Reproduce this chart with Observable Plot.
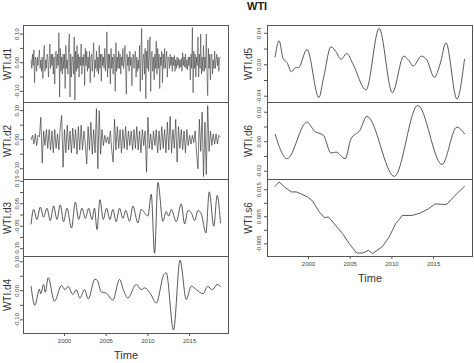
<!DOCTYPE html>
<html><head><meta charset="utf-8">
<script src="https://cdn.jsdelivr.net/npm/d3@7"></script>
<script src="https://cdn.jsdelivr.net/npm/@observablehq/plot@0.6"></script>
<style>
body{margin:0;background:#fff;}
#chart{position:relative;width:474px;height:363px;overflow:hidden;background:#fff;}
#chart svg{position:absolute;overflow:visible;}
.title{position:absolute;left:247px;top:0px;font:bold 11px "Liberation Sans Narrow","Liberation Sans",Arial,sans-serif;color:#222;}
</style></head><body>
<div id="chart"><div class="title">WTI</div></div>
<script>
// ---- data ----
const seriesStart = 1996;
const d1Step = 1 / 12;
const d1Values = [
  0.01,-0.02,0.03,-0.01,0.045,-0.07,0.02,0.01,-0.03,0.02,-0.01,0.015,
  0.045,-0.02,0.01,-0.03,0.02,-0.055,0.03,0.06,-0.03,0.01,-0.02,0.03,
  0.02,-0.05,0.01,0.065,-0.02,0.03,-0.01,0.03,-0.04,0.02,-0.075,0.03,
  0.04,-0.02,0.03,-0.01,0.105,-0.12,0.05,-0.03,0.02,-0.04,0.03,-0.02,
  0.03,-0.09,0.06,-0.02,0.01,-0.04,0.06,0.1,-0.12,0.03,-0.05,0.02,
  0.02,-0.04,0.09,-0.13,0.04,-0.03,0.06,-0.02,0.03,-0.05,0.02,-0.01,
  0.065,-0.04,0.02,-0.01,0.03,-0.08,0.05,-0.01,0.04,-0.03,0.02,-0.02,
  0.04,-0.07,0.015,0.03,-0.03,0.02,0.07,-0.05,0.01,-0.02,0.04,-0.03,
  0.02,-0.04,0.06,-0.02,0.03,-0.065,0.03,-0.01,0.02,-0.02,0.05,-0.03,
  0.01,0.108,-0.05,0.03,-0.02,0.03,-0.075,0.05,-0.02,0.02,-0.04,0.03,
  0.02,-0.1,0.07,-0.03,0.02,-0.02,0.04,-0.02,0.03,-0.04,0.02,-0.01,
  0.05,-0.02,0.01,0.06,-0.03,-0.11,0.03,-0.01,0.02,-0.03,0.04,-0.01,
  0.02,-0.08,0.01,0.03,-0.02,0.02,0.04,-0.05,0.02,-0.03,0.01,-0.02,
  0.06,-0.1,0.03,0.12,-0.06,0.02,0.03,-0.04,0.05,-0.126,0.04,-0.02,
  0.08,-0.03,0.02,0.09,-0.1,0.03,0.04,-0.03,0.02,-0.06,0.03,-0.02,
  0.075,-0.04,0.05,-0.02,0.03,-0.09,0.02,-0.01,0.04,-0.07,0.03,-0.02,
  0.05,-0.02,0.01,0.04,-0.05,0.02,0.015,-0.02,0.03,-0.01,0.02,-0.03,
  0.02,-0.01,0.025,-0.03,0.01,-0.02,0.02,-0.01,0.015,-0.02,0.01,-0.015,
  0.015,-0.03,0.035,-0.01,0.02,-0.015,0.03,-0.02,0.01,-0.025,0.02,-0.01,
  0.02,-0.06,0.03,-0.02,0.123,-0.105,0.04,-0.02,0.03,-0.05,0.02,-0.01,
  0.09,-0.05,0.03,-0.02,0.1,-0.04,0.02,-0.03,0.06,-0.03,0.02,-0.02,
  0.1,-0.04,-0.115,0.05,-0.02,0.03,-0.06,0.02,0.03,-0.04,0.01,-0.02,
  0.04,-0.02,0.01,0.03,-0.01,0.02,-0.03,0.015,0.02
];
const d2Step = 1 / 6;
const d2Values = [
  0.0,0.015,-0.015,0.02,-0.02,0.015,
  0.01,0.077,-0.08,0.03,-0.02,0.035,
  -0.03,0.035,-0.035,0.03,-0.045,0.035,
  -0.03,0.02,-0.035,0.045,0.083,-0.095,
  0.035,-0.045,0.05,-0.035,0.03,-0.045,
  0.04,-0.03,0.035,-0.05,0.045,-0.035,
  0.05,-0.035,0.03,-0.015,-0.083,0.045,
  -0.035,0.06,-0.05,0.035,-0.045,0.107,
  -0.1,0.1,-0.05,0.035,-0.02,0.015,
  -0.01,0.01,-0.015,0.03,-0.035,-0.077,
  0.07,-0.035,0.045,-0.03,0.035,-0.045,
  0.035,-0.03,0.045,-0.035,0.03,-0.02,
  0.03,-0.035,0.035,-0.03,0.045,-0.035,
  0.03,-0.045,0.035,-0.02,0.03,-0.112,
  0.077,-0.03,0.02,-0.035,0.03,-0.02,
  0.035,-0.045,0.03,-0.035,0.045,-0.03,
  0.035,-0.045,0.06,-0.035,0.08,-0.045,
  0.035,-0.03,0.07,-0.077,0.045,-0.03,
  0.035,-0.035,0.03,-0.045,0.035,-0.02,
  0.015,-0.015,0.015,-0.01,0.03,-0.045,
  -0.1,0.07,-0.04,0.095,-0.127,0.06,
  -0.12,0.117,-0.04,0.03,-0.02,0.02,
  -0.015,0.02,-0.015,0.015,0.01
];
const d3Time = [1996.0,1996.3,1996.7,1997.1,1997.5,1997.9,1998.3,1998.7,1999.1,1999.5,1999.9,2000.3,2000.85,2001.3,2001.7,2002.1,2002.5,2002.9,2003.3,2003.6,2003.9,2004.25,2004.65,2005.05,2005.45,2005.8,2006.2,2006.6,2007.0,2007.35,2007.8,2008.2,2008.8,2009.2,2009.6,2010.0,2010.4,2010.8,2011.2,2011.8,2012.2,2012.5,2012.8,2013.4,2014.0,2014.4,2014.8,2015.2,2015.6,2016.0,2016.4,2016.95,2017.35,2017.9,2018.3,2018.7];
const d3Values = [-0.04,0.025,-0.02,0.035,-0.01,0.03,-0.025,0.04,-0.02,0.045,-0.03,0.03,-0.058,0.057,-0.02,0.03,-0.015,0.03,-0.02,0.03,-0.065,0.068,-0.02,0.03,-0.02,0.025,-0.03,0.03,-0.015,0.02,-0.028,0.04,-0.035,0.025,0.01,-0.005,0.092,-0.17,0.145,-0.028,0.015,-0.005,0.025,-0.03,0.05,-0.04,0.02,0.01,-0.025,0.02,0.005,-0.08,0.103,-0.05,0.087,-0.035];
const d4Time = [1996.0,1996.45,1997.0,1997.15,1997.5,1997.7,1998.05,1998.8,1999.65,2000.05,2000.45,2001.0,2001.4,2001.85,2002.4,2002.85,2003.65,2003.95,2004.4,2005.0,2005.8,2006.6,2007.1,2007.6,2008.6,2009.2,2009.6,2010.3,2011.0,2011.9,2012.2,2013.07,2013.85,2014.6,2015.2,2015.8,2016.6,2017.15,2017.75,2018.3,2018.7];
const d4Values = [0.015,-0.05,0.005,-0.01,0.022,-0.005,0.045,-0.036,0.018,0.004,0.015,-0.013,0.004,-0.025,0.004,-0.028,0.04,0.035,-0.004,-0.008,-0.032,0.039,0.0,-0.025,0.022,0.004,0.01,-0.01,-0.042,0.055,0.062,-0.135,0.105,-0.03,0.016,0.004,-0.01,0.015,0.004,0.022,0.015];
const d5Time = [1996.0,1996.48,1996.96,1997.44,1997.95,1998.47,1998.8,1999.82,2001.25,2001.8,2002.7,2003.3,2003.9,2004.6,2005.3,2006.9,2008.47,2010.05,2011.43,2012.0,2012.55,2013.54,2014.2,2015.09,2015.8,2016.48,2017.79,2018.7];
const d5Values = [0.010,0.0306,0.008,0.0026,-0.0088,-0.0037,-0.0037,0.0196,-0.0418,-0.017,0.0229,0.0166,0.0069,0.0145,0.0018,-0.032,0.0463,-0.0355,0.011,0.0058,-0.0016,0.011,0.0058,-0.016,0.0018,0.028,-0.0435,0.0069];
const d6Time = [1996.0,1997.43,1999.82,2000.72,2001.8,2002.7,2003.3,2004.4,2005.1,2006.16,2007.0,2010.3,2013.1,2016.0,2017.79,2018.7];
const d6Values = [0.005,-0.0115,0.0133,0.0072,0.0043,-0.0077,-0.007,-0.0115,0.002,0.0077,0.0172,-0.0235,0.0246,-0.0154,0.0099,0.0054];
const s6Time = [1996.0,1996.48,1997.15,1997.95,1998.55,1999.1,1999.9,2000.5,2001.3,2001.9,2002.4,2003.1,2004.1,2004.9,2005.76,2006.5,2007.2,2007.7,2008.86,2009.66,2010.45,2011.24,2012.43,2013.42,2014.4,2015.2,2015.8,2016.57,2017.56,2018.7];
const s6Values = [0.0163,0.0179,0.0160,0.0142,0.0142,0.0135,0.0123,0.0108,0.0068,0.0047,0.0049,0.0024,-0.0013,-0.005,-0.0084,-0.0084,-0.0074,-0.0086,-0.006,-0.0025,0.0024,0.0055,0.0055,0.0064,0.008,0.0098,0.0096,0.0096,0.0129,0.0163];

const xTicks = [2000, 2005, 2010, 2015];
const panelLabels = ["WTI.d1","WTI.d2","WTI.d3","WTI.d4","WTI.d5","WTI.d6","WTI.s6"];
const yTicks = {
  d1: [-0.1,-0.05,0,0.05,0.1], d2: [-0.1,-0.05,0,0.05,0.1],
  d3: [-0.15,-0.1,-0.05,0,0.05,0.1,0.15], d4: [-0.1,-0.05,0,0.05,0.1],
  d5: [-0.04,-0.02,0,0.02,0.04], d6: [-0.02,-0.01,0,0.01,0.02],
  s6: [-0.005,0,0.005,0.01,0.015]
};
const yTickLabels = {
  d1: [-0.1,0,0.1], d2: [-0.1,0,0.1], d3: [-0.15,-0.05,0.05,0.15], d4: [-0.1,0,0.1],
  d5: [-0.04,0,0.04], d6: [-0.02,0,0.02], s6: [-0.005,0.005,0.015]
};

// ---- layout / scales ----
const xDomain = [1995.09, 2019.66];
const FONT = '"Liberation Sans Narrow","Liberation Sans",Arial,sans-serif';
const chart = document.getElementById("chart");

const regular = (vals, step) => vals.map((v, i) => ({t: seriesStart + i * step, v}));
const paired = (ts, vs) => ts.map((t, i) => ({t, v: vs[i]}));

function panel(o) {
  const mT = 2, mB = o.bottom ? 40 : 2, mR = 2, pw = 205, ph = 77;
  const mL = o.frameLeft - o.svgLeft;
  const labs = yTickLabels[o.key];
  const marks = [
    Plot.line(o.data, {x: "t", y: "v", stroke: o.color || "#2e2e2e", strokeWidth: o.sw || 0.8, curve: o.curve}),
    Plot.axisY({ticks: yTicks[o.key], tickSize: 3, tickPadding: o.tp, tickRotate: -90, fontSize: 6, label: null,
      tickFormat: v => labs.some(l => Math.abs(l - v) < 1e-9) ? v.toFixed(o.key === "s6" ? 3 : 2) : "",
      stroke: "#555", color: "#444"}),
    Plot.text([o.label], {frameAnchor: "left", dx: o.ldx, rotate: -90, textAnchor: "middle", fontSize: 10, fill: "#333"}),
    Plot.frame({stroke: "#555", strokeWidth: 1})
  ];
  if (o.bottom) {
    marks.push(Plot.axisX({ticks: xTicks, tickFormat: d => String(d), tickSize: 3, tickPadding: 2, fontSize: 6, label: null, stroke: "#555", color: "#444"}));
    marks.push(Plot.text(["Time"], {frameAnchor: "bottom", dy: 25, fontSize: 11, fill: "#333"}));
  }
  const svg = Plot.plot({
    width: mL + pw + mR, height: mT + ph + mB,
    marginLeft: mL, marginRight: mR, marginTop: mT, marginBottom: mB,
    x: {domain: xDomain, axis: o.bottom ? undefined : null},
    y: {domain: o.yDomain},
    style: {fontFamily: FONT, overflow: "visible", background: "transparent"},
    marks
  });
  svg.style.left = o.svgLeft + "px";
  svg.style.top = (o.top - mT) + "px";
  chart.appendChild(svg);
}

const L = {svgLeft: 0, frameLeft: 23, ldx: -16, tp: 2};
const R = {svgLeft: 237, frameLeft: 267, ldx: -19, tp: 3.5};

panel({...L, key: "d1", label: panelLabels[0], top: 25, data: regular(d1Values, d1Step), curve: "linear", yDomain: [-0.139, 0.13], sw: 0.55, color: "#333"});
panel({...L, key: "d2", label: panelLabels[1], top: 102, data: regular(d2Values, d2Step), curve: "linear", yDomain: [-0.137, 0.128], sw: 0.65, color: "#333"});
panel({...L, key: "d3", label: panelLabels[2], top: 179, data: paired(d3Time, d3Values), curve: "monotone-x", yDomain: [-0.185, 0.158]});
panel({...L, key: "d4", label: panelLabels[3], top: 256, data: paired(d4Time, d4Values), curve: "monotone-x", yDomain: [-0.147, 0.118], bottom: true});
panel({...R, key: "d5", label: panelLabels[4], top: 25, data: paired(d5Time, d5Values), curve: "monotone-x", yDomain: [-0.048, 0.050]});
panel({...R, key: "d6", label: panelLabels[5], top: 102, data: paired(d6Time, d6Values), curve: "monotone-x", yDomain: [-0.0256, 0.0266]});
panel({...R, key: "s6", label: panelLabels[6], top: 179, data: paired(s6Time, s6Values), curve: "linear", yDomain: [-0.0097, 0.0188], bottom: true});
</script>
</body></html>
